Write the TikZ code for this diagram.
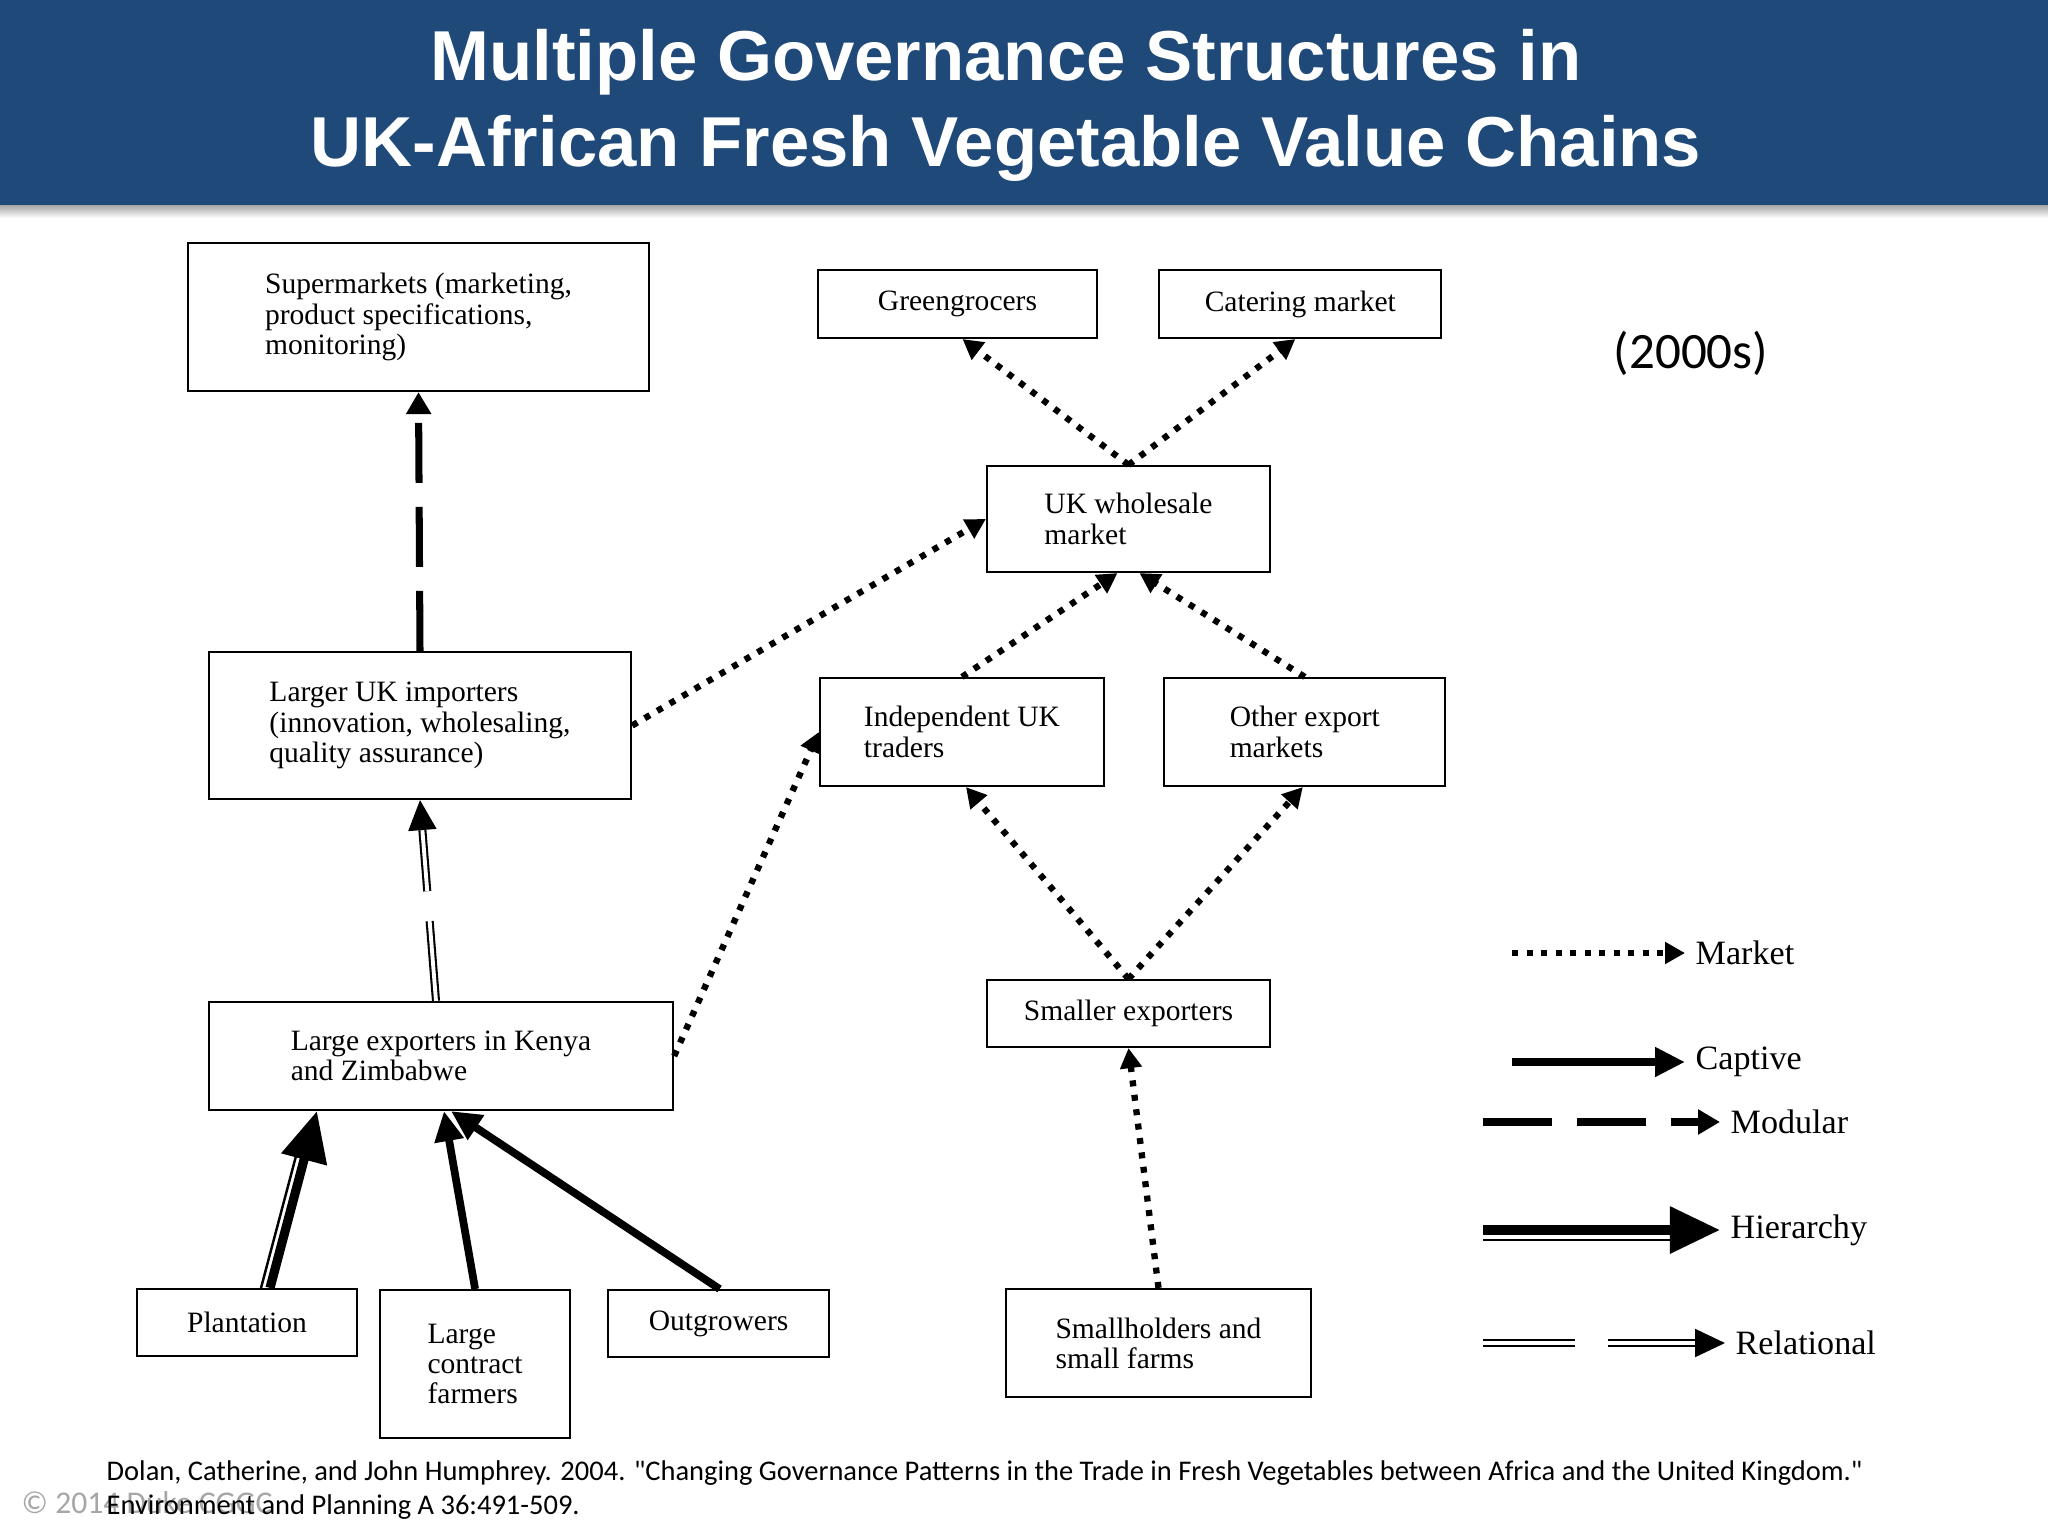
\documentclass[tikz,border=0pt]{standalone}
\usepackage{fontspec}
\setmainfont{Liberation Serif}
\newfontfamily\titlefont{Liberation Sans}
\newfontfamily\notefont{Carlito}
\usetikzlibrary{arrows.meta,positioning,calc}

\definecolor{titleblue}{RGB}{31,73,121}

\begin{document}
\begin{tikzpicture}[x=0.01cm, y=-0.01cm,
    box/.style={rectangle, draw=black, line width=0.6pt, align=left, inner sep=0pt, font=\fontsize{8.4}{8.6}\selectfont},
    market/.style={-{Triangle[length=0.2cm,width=0.21cm]}, line width=1.8pt, dash pattern=on 0.06cm off 0.085cm},
    captive/.style={-{Triangle[length=0.3cm,width=0.28cm]}, line width=2.2pt},
    modular/.style={-{Triangle[length=0.22cm,width=0.24cm]}, line width=2pt, dash pattern=on 0.6cm off 0.24cm},
    hier/.style={-{Triangle[length=0.5cm,width=0.45cm]}, line width=2.6pt},
    hierthin/.style={line width=0.7pt, shorten >=0.45cm},
    rel/.style={double, double distance=1.1pt, line width=0.6pt, shorten >=0.3cm},
    reltip/.style={-{Triangle[length=0.3cm,width=0.28cm]}, line width=0.6pt},
    legtext/.style={anchor=west, inner sep=0.1cm, font=\fontsize{9.7}{11}\selectfont},
    node distance=0.6cm
]
\useasboundingbox (0,0) rectangle (2048,1536);

% title bar
\fill[titleblue] (0,0) rectangle (2048,205);
\shade[top color=black!35, bottom color=white] (0,205) rectangle (2048,218);
\node[font=\titlefont\bfseries\fontsize{20.1}{24.5}\selectfont, text=white, align=center] (title) at (1006,105)
  {Multiple Governance Structures in\\UK-African Fresh Vegetable Value Chains};

% boxes
\node[box, minimum width=4.61cm, minimum height=1.48cm] (sup) at (418.5,317) {Supermarkets (marketing,\\product specifications,\\monitoring)};
\node[box, minimum width=2.79cm, minimum height=0.68cm] (green) at (957.5,304) {Greengrocers};
\node[box, minimum width=2.82cm, minimum height=0.68cm, right=0.6cm of green] (cater) {Catering market};
\node[box, minimum width=2.83cm, minimum height=1.06cm] (whole) at (1128.5,519) {UK wholesale\\market};
\node[box, minimum width=4.22cm, minimum height=1.47cm] (imp) at (420,725.5) {Larger UK importers\\(innovation, wholesaling,\\quality assurance)};
\node[box, minimum width=2.84cm, minimum height=1.08cm] (indep) at (962,732) {Independent UK\\traders};
\node[box, minimum width=2.81cm, minimum height=1.08cm, right=0.58cm of indep] (other) {Other export\\markets};
\node[box, minimum width=2.83cm, minimum height=0.67cm] (small) at (1128.5,1013.5) {Smaller exporters};
\node[box, minimum width=4.64cm, minimum height=1.08cm] (lexp) at (441,1056) {Large exporters in Kenya\\and Zimbabwe};
\node[box, minimum width=2.2cm, minimum height=0.67cm] (plant) at (247,1322.5) {Plantation};
\node[box, minimum width=1.9cm, minimum height=1.48cm, anchor=north west] (contract) at (379,1289) {Large\\contract\\farmers};
\node[box, minimum width=2.21cm, minimum height=0.67cm, anchor=north west] (outg) at (607,1289) {Outgrowers};
\node[box, minimum width=3.05cm, minimum height=1.08cm] (shold) at (1158.5,1343) {Smallholders and\\small farms};

% market links
\draw[market] (whole.north) -- ([xshift=0.05cm]green.south);
\draw[market] (whole.north) -- ([xshift=-0.05cm]cater.south);
\draw[market] (imp.east) -- (whole.west);
\draw[market] (indep.north) -- ([xshift=-0.11cm]whole.south);
\draw[market] (other.north) -- ([xshift=0.11cm]whole.south);
\draw[market] (small.north) -- ([xshift=0.04cm]indep.south);
\draw[market] (small.north) -- ([xshift=-0.02cm]other.south);
\draw[market] (shold.north) -- (small.south);
\draw[market] (lexp.east) -- (indep.west);

% modular
\draw[modular] (imp.north) -- (sup.south);

% relational
\coordinate (relfoot) at ([xshift=-0.05cm]lexp.north);
\draw[rel, dash pattern=on 0.8cm off 0.3cm] (relfoot) -- (imp.south);
\draw[reltip] ($(imp.south)!0.3cm!(relfoot)$) -- (imp.south);

% hierarchy
\draw[hier] ([xshift=0.23cm]plant.north) -- ([xshift=-1.24cm]lexp.south);
\draw[hierthin] ([xshift=0.14cm]plant.north) -- ([xshift=-1.33cm]lexp.south);

% captive
\draw[captive] (contract.north) -- ([xshift=0.03cm]lexp.south);
\draw[captive] ([xshift=0.01cm]outg.north) -- ([xshift=0.1cm]lexp.south);

\node[font=\notefont\fontsize{14.5}{17}\selectfont] (era) at (1691,353) {(2000s)};

% legend
\node[legtext] (lmarket) at (1685,953) {Market};
\coordinate (lm0) at (1512,953);
\draw[market] (lm0) -- (lmarket.west);
\node[legtext] (lcapt) at (1685,1062) {Captive};
\coordinate (lc0) at (1512,1062);
\draw[captive] (lc0) -- (lcapt.west);
\node[legtext] (lmod) at (1720,1122) {Modular};
\coordinate (lmo0) at (1483,1122);
\draw[modular, dash pattern=on 0.69cm off 0.25cm] (lmo0) -- (lmod.west);
\node[legtext] (lhier) at (1720,1230) {Hierarchy};
\coordinate (lh0) at (1483,1230);
\draw[hier] (lh0) -- (lhier.west);
\draw[hierthin] ([yshift=-0.1cm]lh0) -- ([yshift=-0.1cm]lhier.west);
\node[legtext] (lrel) at (1725,1343) {Relational};
\coordinate (lr0) at (1483,1343);
\draw[rel, dash pattern=on 0.92cm off 0.33cm] (lr0) -- (lrel.west);
\draw[reltip] ($(lrel.west)!0.3cm!(lr0)$) -- (lrel.west);

% source
\node[font=\notefont\fontsize{9}{10}\selectfont, text=gray!70, anchor=west, inner sep=0pt] (copy) at (21,1503) {© 2014 Duke CGGC};
\node[font=\notefont\fontsize{8.1}{9}\selectfont, anchor=west, inner sep=0pt] (ref1) at (106,1473)
  {Dolan, Catherine, and John Humphrey. 2004. "Changing Governance Patterns in the Trade in Fresh Vegetables between Africa and the United Kingdom."};
\node[font=\notefont\fontsize{8.1}{9}\selectfont, anchor=west, inner sep=0pt] (ref2) at (106,1507)
  {Environment and Planning A 36:491-509.};
\end{tikzpicture}
\end{document}
